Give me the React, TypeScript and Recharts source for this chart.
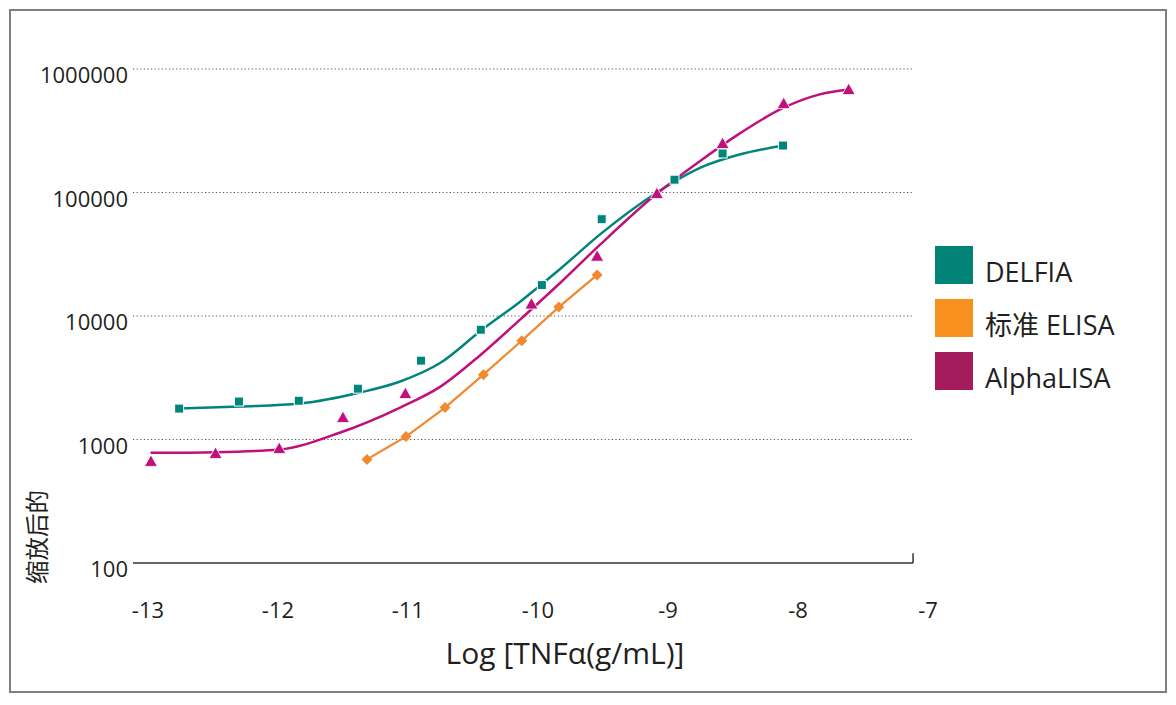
import React from "react";
import {
  ComposedChart,
  Line,
  Scatter,
  XAxis,
  YAxis,
  ReferenceLine,
} from "recharts";

// measured points, x = log[TNFa], y = scaled signal
const delfiaX = [-12.76, -12.3, -11.84, -11.385, -10.9, -10.44, -9.97, -9.51, -8.95, -8.58, -8.115];
const delfiaY = [1780, 2030, 2060, 2580, 4350, 7740, 17800, 60800, 127000, 207000, 240000];

const alphaX = [-12.977, -12.48, -11.99, -11.5, -11.02, -10.05, -9.545, -9.085, -8.58, -8.11, -7.61];
const alphaY = [665, 771, 846, 1505, 2355, 12500, 30500, 98000, 249000, 525000, 681000];

const elisaX = [-11.315, -11.015, -10.715, -10.42, -10.125, -9.84, -9.545];
const elisaY = [690, 1057, 1815, 3350, 6310, 11800, 21500];

// fitted curves
const delfiaFitX = [-12.76, -12.29, -11.83, -11.37, -11.06, -10.75, -10.44, -10.14, -9.83, -9.52, -9.085, -8.75, -8.45, -8.115];
const delfiaFitY = [1780, 1850, 1955, 2400, 2950, 4180, 7600, 13000, 24000, 46000, 100000, 159000, 203000, 240000];

const alphaFitX = [-12.98, -12.48, -11.99, -11.52, -11.06, -10.75, -10.44, -10.14, -9.83, -9.52, -9.085, -8.75, -8.45, -8.11, -7.84, -7.61];
const alphaFitY = [780, 790, 830, 1140, 1815, 2680, 4860, 9300, 18500, 38000, 98000, 181000, 300000, 486000, 620000, 681000];

const xTicks = [-13, -12, -11, -10, -9, -8, -7];
const yTicks = [100, 1000, 10000, 100000, 1000000];
const gridValues = [1000, 10000, 100000, 1000000];

const legendItems = [
  { name: "DELFIA", color: "#008276" },
  { name: "标准 ELISA", color: "#f7901e" },
  { name: "AlphaLISA", color: "#a51c5c" },
];

const zip = (xs: number[], ys: number[]) => xs.map((x, i) => ({ x, y: ys[i] }));

const delfiaPts = zip(delfiaX, delfiaY);
const alphaPts = zip(alphaX, alphaY);
const elisaPts = zip(elisaX, elisaY);
const delfiaFit = zip(delfiaFitX, delfiaFitY);
const alphaFit = zip(alphaFitX, alphaFitY);

const TEAL = "#00857b";
const MAGENTA = "#c0107c";
const ORANGE = "#f0892f";
const TEXT = "#231f20";
const FONT = '"Open Sans", "Noto Sans CJK SC", sans-serif';

const X_LEFT = -13.115;
const X_AXIS_END = -7.115;

const Square = (props: any) => {
  const { cx, cy } = props;
  return <rect x={cx - 4.5} y={cy - 4.5} width={9} height={9} fill={TEAL} stroke="#fff" strokeWidth={1} />;
};

const Triangle = (props: any) => {
  const { cx, cy } = props;
  return (
    <polygon
      points={`${cx},${cy - 6.5} ${cx - 6.5},${cy + 5} ${cx + 6.5},${cy + 5}`}
      fill={MAGENTA}
      stroke="#fff"
      strokeWidth={0.8}
    />
  );
};

const Diamond = (props: any) => {
  const { cx, cy } = props;
  return (
    <polygon
      points={`${cx},${cy - 5.5} ${cx + 5.5},${cy} ${cx},${cy + 5.5} ${cx - 5.5},${cy}`}
      fill={ORANGE}
    />
  );
};

const XTick = (props: any) => {
  const { x, y, payload } = props;
  return (
    <text x={x} y={y + 46} textAnchor="middle" dominantBaseline="central" fill={TEXT} fontSize={22} fontFamily={FONT}>
      {payload.value}
    </text>
  );
};

const YTick = (props: any) => {
  const { x, y, payload } = props;
  return (
    <text x={x} y={y + 5} textAnchor="end" dominantBaseline="central" fill={TEXT} fontSize={22} fontFamily={FONT}>
      {payload.value}
    </text>
  );
};

export default function App() {
  return (
    <div style={{ position: "relative", width: 1160, height: 690, fontFamily: FONT }}>
      <div
        style={{
          position: "absolute",
          left: 1,
          top: 1,
          width: 1158,
          height: 684,
          border: "2px solid #7f7f7f",
          boxSizing: "border-box",
        }}
      />
      <ComposedChart
        width={1160}
        height={690}
        margin={{ top: 61, right: 240, bottom: 0, left: 0 }}
        style={{ position: "absolute", left: 0, top: 0 }}
      >
        <XAxis
          type="number"
          dataKey="x"
          domain={[X_LEFT, -7]}
          allowDataOverflow
          ticks={xTicks}
          interval={0}
          height={135}
          axisLine={false}
          tickLine={false}
          tickSize={0}
          tickMargin={0}
          tick={<XTick />}
        />
        <YAxis
          type="number"
          dataKey="y"
          scale="log"
          domain={[100, 1000000]}
          allowDataOverflow
          ticks={yTicks}
          interval={0}
          width={125}
          axisLine={false}
          tickLine={false}
          tickSize={0}
          tickMargin={5}
          tick={<YTick />}
        />
        {gridValues.map((v) => (
          <ReferenceLine
            key={v}
            segment={[
              { x: X_LEFT, y: v },
              { x: X_AXIS_END, y: v },
            ]}
            stroke="#555"
            strokeWidth={1.2}
            strokeDasharray="1.2 2.4"
          />
        ))}
        <ReferenceLine
          segment={[
            { x: X_LEFT, y: 100 },
            { x: X_AXIS_END, y: 100 },
          ]}
          stroke="#333"
          strokeWidth={1.5}
        />
        <ReferenceLine
          segment={[
            { x: X_AXIS_END, y: 100 },
            { x: X_AXIS_END, y: 120 },
          ]}
          stroke="#333"
          strokeWidth={1.5}
        />
        <Line
          data={delfiaFit}
          dataKey="y"
          type="monotone"
          stroke={TEAL}
          strokeWidth={2.5}
          dot={false}
          activeDot={false}
          isAnimationActive={false}
        />
        <Line
          data={alphaFit}
          dataKey="y"
          type="monotone"
          stroke={MAGENTA}
          strokeWidth={2.5}
          dot={false}
          activeDot={false}
          isAnimationActive={false}
        />
        <Line
          data={elisaPts}
          dataKey="y"
          type="linear"
          stroke={ORANGE}
          strokeWidth={2.2}
          dot={false}
          activeDot={false}
          isAnimationActive={false}
        />
        <Scatter data={delfiaPts} dataKey="y" shape={<Square />} isAnimationActive={false} />
        <Scatter data={alphaPts} dataKey="y" shape={<Triangle />} isAnimationActive={false} />
        <Scatter data={elisaPts} dataKey="y" shape={<Diamond />} isAnimationActive={false} />
      </ComposedChart>

      {/* axis titles */}
      <div
        style={{
          position: "absolute",
          left: 357,
          top: 630,
          width: 400,
          textAlign: "center",
          fontSize: 30,
          lineHeight: "30px",
          color: TEXT,
        }}
      >
        Log [TNFα(g/mL)]
      </div>
      <div
        style={{
          position: "absolute",
          left: -31,
          top: 514,
          width: 120,
          height: 30,
          lineHeight: "30px",
          textAlign: "center",
          fontSize: 23.5,
          color: TEXT,
          transform: "rotate(-90deg)",
        }}
      >
        缩放后的
      </div>

      {/* legend */}
      {legendItems.map((item, i) => (
        <div key={item.name} style={{ position: "absolute", left: 927, top: 238 + i * 53, width: 230, height: 40 }}>
          <div style={{ position: "absolute", left: 0, top: 0, width: 38, height: 38, background: item.color }} />
          <div
            style={{
              position: "absolute",
              left: 50,
              top: 12,
              fontSize: 27,
              lineHeight: "27px",
              whiteSpace: "nowrap",
              color: TEXT,
            }}
          >
            {item.name}
          </div>
        </div>
      ))}
    </div>
  );
}
